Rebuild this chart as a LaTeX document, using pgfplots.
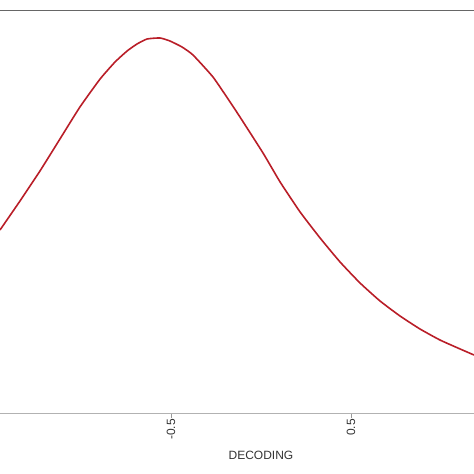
\documentclass[border=0pt]{standalone}
\usepackage{pgfplots}
\pgfplotsset{compat=1.18}
\usepackage{fontspec}
\setmainfont{Liberation Sans}
\definecolor{curvered}{RGB}{185,30,40}
\begin{document}
\begin{tikzpicture}[x=1pt,y=1pt]
\useasboundingbox (0,0) rectangle (474,474);
\begin{axis}[
    at={(0,61)}, anchor=south west,
    scale only axis,
    width=474pt, height=402pt,
    xmin=-1.45, xmax=1.183,
    ymin=0, ymax=402,
    axis line style={draw=none},
    ytick=\empty,
    xtick={-0.5,0.5},
    xticklabels={-0.5,0.5},
    xtick pos=bottom,
    tick align=outside,
    major tick length=5pt,
    tick style={gray!80, line width=0.6pt},
    xticklabel style={rotate=90, anchor=east, font=\fontsize{12}{12}\selectfont, text=black!80, inner sep=1pt},
    xlabel={DECODING},
    xlabel style={at={(axis description cs:0.5506,0)}, anchor=center, yshift=-42pt, font=\fontsize{12}{12}\selectfont, text=black!80},
    clip=true,
]
\addplot[color=curvered, line width=1.6pt, smooth, tension=0.3] coordinates {
    (-1.450,183) (-1.339,212) (-1.228,242) (-1.117,274) (-1.006,306)
    (-0.894,334) (-0.811,351) (-0.744,362) (-0.689,369)
    (-0.633,374) (-0.561,375) (-0.506,372) (-0.439,366) (-0.378,358)
    (-0.267,336) (-0.172,311) (-0.117,296) (0.011,260) (0.106,231)
    (0.217,201) (0.328,175) (0.439,151) (0.550,130) (0.661,112)
    (0.772,97) (0.883,84) (0.994,73) (1.106,64) (1.183,58)
};
\draw[gray!60, line width=0.8pt] (rel axis cs:0,0) -- (rel axis cs:1,0);
\draw[black!60, line width=1pt] (rel axis cs:0,1) -- (rel axis cs:1,1);
\end{axis}
\end{tikzpicture}
\end{document}
